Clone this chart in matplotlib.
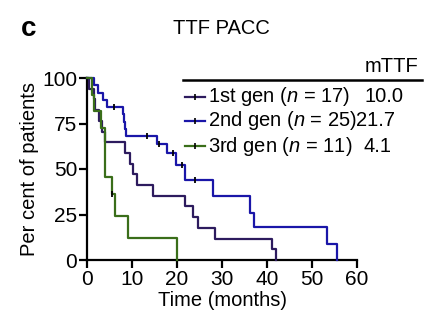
import matplotlib
matplotlib.use('Agg')
import matplotlib.pyplot as plt
from matplotlib.lines import Line2D

plt.rcParams['font.family'] = ['Liberation Sans', 'DejaVu Sans']
plt.rcParams['mathtext.fontset'] = 'custom'
plt.rcParams['mathtext.rm'] = 'Liberation Sans'
plt.rcParams['mathtext.it'] = 'Liberation Sans:italic'

# Kaplan-Meier steps (months, per cent)
gen1_t = [0, 0.5, 1.5, 1.8, 2.7, 3.3, 4.0, 8.4, 9.5, 10.3, 11.0, 14.6, 21.8, 23.6, 24.7, 28.4, 41.0, 42.0]
gen1_s = [100, 94.1, 88.2, 82.4, 76.5, 70.6, 64.7, 58.8, 52.9, 47.1, 41.2, 35.3, 29.4, 23.5, 17.6, 11.8, 5.9, 0]

gen2_t = [0, 1.5, 2.5, 3.5, 4.4, 8.0, 8.2, 8.4, 8.6, 15.5, 17.7, 19.8, 21.7, 28.0, 36.3, 37.0, 53.3, 55.5]
gen2_s = [100, 96, 92, 88, 84, 80, 76, 72, 68, 64, 59, 52, 44, 35, 26, 18, 9, 0]
gen2_cens_t = [6.0, 13.3, 16.0, 19.0, 21.0, 24.0]
gen2_cens_s = [84, 68, 64, 59, 52, 44]

gen3_t = [0, 1.0, 1.5, 3.0, 4.0, 5.5, 6.2, 9.0, 20.0]
gen3_s = [100, 90.9, 81.8, 72.7, 45.5, 36.4, 24.2, 12.1, 0]
gen3_cens_t = [5.5]
gen3_cens_s = [36.4]

labels = ['1st gen', '2nd gen', '3rd gen']
n_pat = [17, 25, 11]
mttf = ['10.0', '21.7', '4.1']
colors = ['#2d1b5e', '#1a16a8', '#3a6e1a']

W, H = 426, 325
fs = 14.5
fig = plt.figure(figsize=(W / 100, H / 100), dpi=100)

def fx(px):
    return px / W

def fy(py):
    return 1 - py / H

ax = fig.add_axes([fx(87), fy(260), fx(357) - fx(87), fy(78) - fy(260)])

for t, s, c in zip([gen1_t, gen2_t, gen3_t], [gen1_s, gen2_s, gen3_s], colors):
    ax.step(t, s, where='post', color=c, lw=1.6, clip_on=False, zorder=3)
ax.plot(gen2_cens_t, gen2_cens_s, ls='none', marker='|', ms=5, mew=1.3, color='black', zorder=4)
ax.plot(gen3_cens_t, gen3_cens_s, ls='none', marker='|', ms=5, mew=1.3, color='black', zorder=4)

ax.set_xlim(0, 60)
ax.set_ylim(0, 100)
ax.set_xticks([0, 10, 20, 30, 40, 50, 60])
ax.set_yticks([0, 25, 50, 75, 100])
for sp in ['top', 'right']:
    ax.spines[sp].set_visible(False)
for sp in ['left', 'bottom']:
    ax.spines[sp].set_linewidth(1.6)
ax.tick_params(direction='out', length=5.5, width=1.6, labelsize=15, pad=1.5)
ax.set_xlabel('Time (months)', fontsize=fs, labelpad=1.5)
ax.set_ylabel('Per cent of patients', fontsize=fs, labelpad=2)

# panel letter and title
fig.text(fx(21), fy(29), 'c', fontsize=20, fontweight='bold', va='center')
fig.text(fx(221), fy(28), 'TTF PACC', fontsize=fs, ha='center', va='center')

# legend table
fig.add_artist(Line2D([fx(183), fx(422)], [fy(80), fy(80)], color='black', lw=1.8))
fig.text(fx(418), fy(66), 'mTTF', fontsize=fs, ha='right', va='center')
rows_y = [97, 121, 146]
vals_x = [364, 356, 364]
for lab, n, m, c, yy, vx in zip(labels, n_pat, mttf, colors, rows_y, vals_x):
    fig.add_artist(Line2D([fx(185), fx(205)], [fy(yy), fy(yy)], color=c, lw=1.6))
    fig.add_artist(Line2D([fx(195)], [fy(yy)], marker='|', ms=4, mew=1.2, color='black'))
    fig.text(fx(208), fy(yy), lab + ' ($\\it{n}$ = %d)' % n, fontsize=fs, va='center')
    fig.text(fx(vx), fy(yy), m, fontsize=fs, va='center')

fig.savefig('out.png', dpi=100)
